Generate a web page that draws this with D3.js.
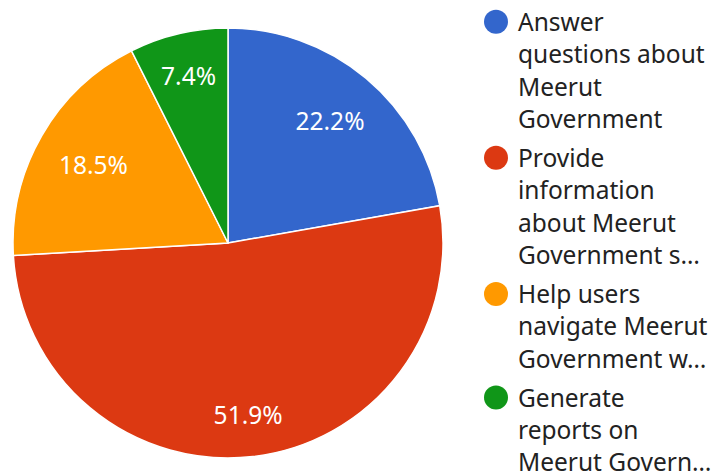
<!DOCTYPE html>
<html>
<head>
<meta charset="utf-8">
<script src="https://cdn.jsdelivr.net/npm/d3@7"></script>
<style>
	html, body { margin: 0; padding: 0; background: #fff; }
	svg { display: block; font-family: "Noto Sans", "Open Sans", sans-serif; }
</style>
</head>
<body>
<svg id="chart" width="712" height="474"></svg>
<script>
// responses per purpose (27 in total); legend names keep the chart's own line breaks
const categories = [
	'Answer\nquestions about\nMeerut\nGovernment',
	'Provide\ninformation\nabout Meerut\nGovernment s\u2026',
	'Help users\nnavigate Meerut\nGovernment w\u2026',
	'Generate\nreports on\nMeerut Govern\u2026'
];
const counts = [6, 14, 5, 2];
const colors = ['#3366cc', '#dc3912', '#ff9900', '#109618'];

const width = 712, height = 474,
	centerX = 228, centerY = 243, radius = 215,
	legendX = 496, legendTextX = 518, legendTop = 30.7,
	lineHeight = 32.4, groupGap = 6.5,
	fontSize = 24.5;

const svg = d3.select('#chart');
const total = d3.sum(counts);

const pie = d3.pie().sort(null).value(d => d)(counts);
const arc = d3.arc().innerRadius(0).outerRadius(radius);

const g = svg.append('g').attr('transform', `translate(${centerX}, ${centerY})`);

g.selectAll('path')
	.data(pie)
	.join('path')
		.attr('d', arc)
		.attr('fill', (d, i) => colors[i])
		.attr('stroke', '#fff')
		.attr('stroke-width', 1.5);

// labels: push each text box out until its outer edge touches a fixed ring
const labelRing = radius * 0.9;
g.selectAll('text')
	.data(pie)
	.join('text')
		.attr('text-anchor', 'middle')
		.attr('dy', '0.35em')
		.attr('fill', '#fff')
		.attr('font-size', fontSize)
		.text(d => (d.value / total * 100).toFixed(1) + '%')
		.attr('transform', function(d){
			const box = this.getBBox(),
				a = (d.startAngle + d.endAngle) / 2,
				s = Math.sin(a), c = Math.cos(a),
				dist = labelRing - (box.width / 2 * Math.abs(s) + box.height / 2 * Math.abs(c));
			return `translate(${dist * s}, ${-dist * c})`;
		});

const legend = svg.append('g');
let baseline = legendTop;
categories.forEach((name, i) => {
	legend.append('circle')
		.attr('cx', legendX)
		.attr('cy', baseline - 9)
		.attr('r', 12)
		.attr('fill', colors[i]);

	const lines = name.split('\n');
	legend.append('text')
		.attr('y', baseline)
		.attr('font-size', fontSize)
		.attr('fill', '#222')
		.selectAll('tspan')
		.data(lines)
		.join('tspan')
			.attr('x', legendTextX)
			.attr('dy', (d, j) => j ? lineHeight : 0)
			.text(d => d);

	baseline += lines.length * lineHeight + groupGap;
});
</script>
</body>
</html>
